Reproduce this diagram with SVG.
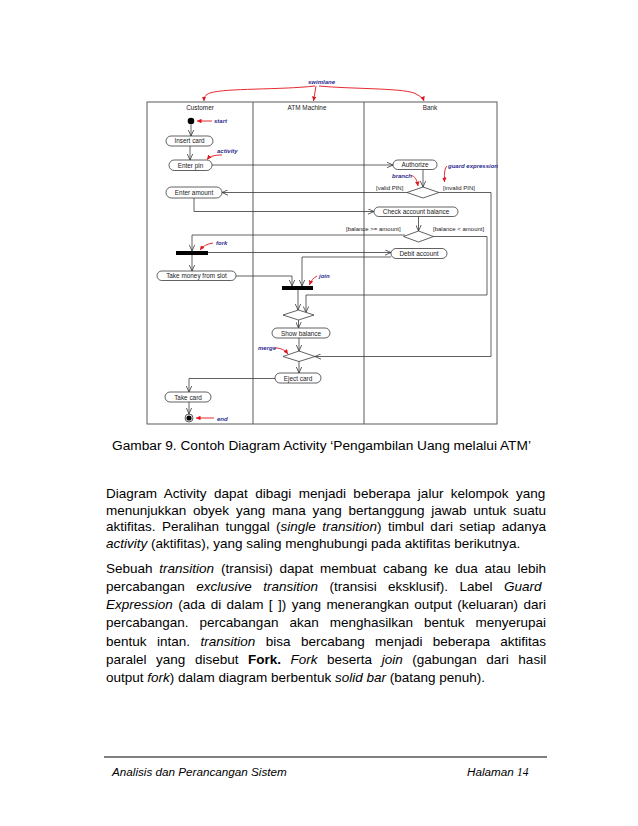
<svg xmlns="http://www.w3.org/2000/svg" width="638" height="826" viewBox="0 0 638 826">
<defs>
<marker id="oa" viewBox="0 0 6 6" refX="6" refY="3" markerWidth="6" markerHeight="6" markerUnits="userSpaceOnUse" orient="auto"><path d="M0,0.3 L6,3 L0,5.7" fill="none" stroke="#3a3a3a" stroke-width="0.8"/></marker>
<marker id="ra" viewBox="0 0 5 5" refX="5" refY="2.5" markerWidth="4.5" markerHeight="4.5" markerUnits="userSpaceOnUse" orient="auto"><path d="M0,0 L5,2.5 L0,5 z" fill="#e3121b"/></marker>
<style>
.frame{fill:none;stroke:#5a5a5a;stroke-width:1}
.act{fill:#fff;stroke:#3a3a3a;stroke-width:0.8}
.dia{fill:#fff;stroke:#3a3a3a;stroke-width:0.8}
.bar{fill:#000}
.t{font-family:"Liberation Sans",Arial,sans-serif;font-size:6.4px;fill:#222;text-anchor:middle}
.g{font-family:"Liberation Sans",Arial,sans-serif;font-size:6px;fill:#222}
.lbl{font-family:"Liberation Sans",Arial,sans-serif;font-size:6px;font-style:italic;font-weight:bold;fill:#2b2b8f}
.c{fill:none;stroke:#3a3a3a;stroke-width:0.8;marker-end:url(#oa)}
.r{fill:none;stroke:#e3121b;stroke-width:0.9;marker-end:url(#ra)}
.body{font-family:"Liberation Sans",Arial,sans-serif;font-size:13.5px;fill:#000}
.cap{font-family:"Liberation Sans",Arial,sans-serif;font-size:13.7px;fill:#000}
.foot{font-family:"Liberation Sans",Arial,sans-serif;font-size:11.7px;font-style:italic;fill:#000}
</style>
</defs>
<rect width="638" height="826" fill="#fff"/>

<g id="swimlanes">
<rect class="frame" x="147" y="102" width="350" height="322"/>
<line class="frame" x1="253" y1="102" x2="253" y2="424"/>
<line class="frame" x1="364" y1="102" x2="364" y2="424"/>
<text class="t" x="200" y="109.5">Customer</text>
<text class="t" x="307" y="109.5">ATM Machine</text>
<text class="t" x="430" y="109.5">Bank</text>
</g>

<g id="connectors">
<path class="c" d="M191,124.5 V136"/>
<path class="c" d="M190,146 V160"/>
<path class="c" d="M212,165 H393"/>
<path class="c" d="M423,169.5 V187"/>
<path class="c" d="M407,192.5 H222"/>
<path class="c" d="M439,192.5 H491 V356.5 H315"/>
<path class="c" d="M194,198 V211.5 H374"/>
<path class="c" d="M418.5,216.5 V231"/>
<path class="c" d="M405,235 H192 V251"/>
<path class="c" d="M192,255 V271"/>
<path class="c" d="M208,252.5 H391"/>
<path class="c" d="M391,257 H302 V286"/>
<path class="c" d="M236,276 H292 V286"/>
<path class="c" d="M298,290 V310"/>
<path class="c" d="M433,236.5 H487 V295 H306 V312.4"/>
<path class="c" d="M298.5,320 V328"/>
<path class="c" d="M299,338 V351"/>
<path class="c" d="M299,361 V373"/>
<path class="c" d="M275,378.5 H189 V392"/>
<path class="c" d="M189,402 V413.8"/>
</g>

<g id="start"><circle cx="191" cy="121" r="3.3" fill="#000"/></g>
<g id="insert-card"><rect class="act" x="166" y="136" width="47" height="10" rx="5"/><text class="t" x="189.5" y="143.3">Insert card</text></g>
<g id="enter-pin"><rect class="act" x="169" y="160" width="43" height="10.5" rx="5.2"/><text class="t" x="190.5" y="167.5">Enter pin</text></g>
<g id="enter-amount"><rect class="act" x="166" y="187" width="56" height="11" rx="5.5"/><text class="t" x="194" y="194.8">Enter amount</text></g>
<g id="authorize"><rect class="act" x="393" y="160" width="44" height="9.5" rx="4.7"/><text class="t" x="415" y="167">Authorize</text></g>
<g id="branch"><polygon class="dia" points="423,187 439,192.5 423,198 407,192.5"/></g>
<g id="check-balance"><rect class="act" x="374" y="207" width="84" height="9.5" rx="4.7"/><text class="t" x="416" y="214">Check account balance</text></g>
<g id="balance-branch"><polygon class="dia" points="418.5,231 433.5,236.5 418.5,242 403.5,236.5"/></g>
<g id="debit-account"><rect class="act" x="391" y="248.5" width="56" height="10" rx="5"/><text class="t" x="419" y="256">Debit account</text></g>
<g id="fork"><rect class="bar" x="176" y="251" width="32" height="4"/></g>
<g id="take-money"><rect class="act" x="157" y="271" width="79" height="9.5" rx="4.7"/><text class="t" x="196.5" y="278">Take money from slot</text></g>
<g id="join"><rect class="bar" x="282" y="286" width="31" height="4"/></g>
<g id="merge-1"><polygon class="dia" points="298.5,310 314,315 298.5,320 283,315"/></g>
<g id="show-balance"><rect class="act" x="272" y="328" width="58" height="10" rx="5"/><text class="t" x="301" y="335.5">Show balance</text></g>
<g id="merge-2"><polygon class="dia" points="299,351 315,356.5 299,361.5 283,356.5"/></g>
<g id="eject-card"><rect class="act" x="275" y="373" width="46" height="10" rx="5"/><text class="t" x="298" y="380.5">Eject card</text></g>
<g id="take-card"><rect class="act" x="165" y="392" width="46" height="10" rx="5"/><text class="t" x="188" y="399.5">Take card</text></g>
<g id="end"><circle cx="189" cy="418" r="4" fill="#fff" stroke="#333" stroke-width="0.8"/><circle cx="189" cy="418" r="2.6" fill="#000"/></g>

<g id="guards">
<text class="g" x="376" y="189.5">[valid PIN]</text>
<text class="g" x="443" y="189.5">[invalid PIN]</text>
<text class="g" x="346" y="231">[balance &gt;= amount]</text>
<text class="g" x="433" y="231">[balance &lt; amount]</text>
</g>

<g id="annotations">
<text class="lbl" x="308" y="84">swimlane</text>
<path class="r" d="M315,86 C280,90 225,88 210,93 C205,95 204,97 204,101"/>
<path class="r" d="M316,86 L313.5,101"/>
<path class="r" d="M319,86 C350,89 400,88 414,93 C420,96 423,98 424,101"/>
<text class="lbl" x="214" y="123">start</text>
<path class="r" d="M212,121 H197"/>
<text class="lbl" x="217" y="153">activity</text>
<path class="r" d="M222,155 C215,155 210,156 207,159.5"/>
<text class="lbl" x="392" y="178">branch</text>
<path class="r" d="M411,175.5 C415,176 417,180 418,186"/>
<text class="lbl" x="448" y="168">guard expression</text>
<path class="r" d="M447,166 C445,168 444,172 444.5,182"/>
<text class="lbl" x="216" y="245">fork</text>
<path class="r" d="M213,243 C207,244 203,246 200,250"/>
<text class="lbl" x="319" y="278">join</text>
<path class="r" d="M317,276 C313,278 311,281 309.5,285"/>
<text class="lbl" x="258" y="350">merge</text>
<path class="r" d="M275,348 C281,348 285,350 288,354"/>
<text class="lbl" x="217" y="421">end</text>
<path class="r" d="M214,418 H196"/>
</g>

<g id="caption">
<text class="cap" x="112" y="450">Gambar 9. Contoh Diagram Activity ‘Pengambilan Uang melalui ATM’</text>
</g>

<g id="paragraph-1">
<text class="body" x="106" y="498" word-spacing="3.7">Diagram Activity dapat dibagi menjadi beberapa jalur kelompok yang</text>
<text class="body" x="106" y="514.5" word-spacing="3.04">menunjukkan obyek yang mana yang bertanggung jawab untuk suatu</text>
<text class="body" x="106" y="531" word-spacing="2.66">aktifitas. Peralihan tunggal (<tspan font-style="italic">single transition</tspan>) timbul dari setiap adanya</text>
<text class="body" x="106" y="547.5"><tspan font-style="italic">activity</tspan> (aktifitas), yang saling menghubungi pada aktifitas berikutnya.</text>
</g>

<g id="paragraph-2">
<text class="body" x="106" y="572.5" word-spacing="3.03">Sebuah <tspan font-style="italic">transition</tspan> (transisi) dapat membuat cabang ke dua atau lebih</text>
<text class="body" x="106" y="590.8" word-spacing="7.68">percabangan <tspan font-style="italic">exclusive transition</tspan> (transisi eksklusif). Label <tspan font-style="italic">Guard</tspan></text>
<text class="body" x="106" y="609.1" word-spacing="1.68"><tspan font-style="italic">Expression</tspan> (ada di dalam [ ]) yang menerangkan output (keluaran) dari</text>
<text class="body" x="106" y="627.4" word-spacing="7.26">percabangan. percabangan akan menghasilkan bentuk menyerupai</text>
<text class="body" x="106" y="645.7" word-spacing="6.69">bentuk intan. <tspan font-style="italic">transition</tspan> bisa bercabang menjadi beberapa aktifitas</text>
<text class="body" x="106" y="664" word-spacing="5.79">paralel yang disebut <tspan font-weight="bold">Fork.</tspan> <tspan font-style="italic">Fork</tspan> beserta <tspan font-style="italic">join</tspan> (gabungan dari hasil</text>
<text class="body" x="106" y="682.3">output <tspan font-style="italic">fork</tspan>) dalam diagram berbentuk <tspan font-style="italic">solid bar</tspan> (batang penuh).</text>
</g>

<g id="footer">
<line x1="104" y1="757" x2="547" y2="757" stroke="#555" stroke-width="1.3"/>
<text class="foot" x="112" y="776">Analisis dan Perancangan Sistem</text>
<text class="foot" x="467" y="776">Halaman <tspan font-family="'Liberation Serif','Times New Roman',serif" font-size="11.5px">14</tspan></text>
</g>
</svg>
